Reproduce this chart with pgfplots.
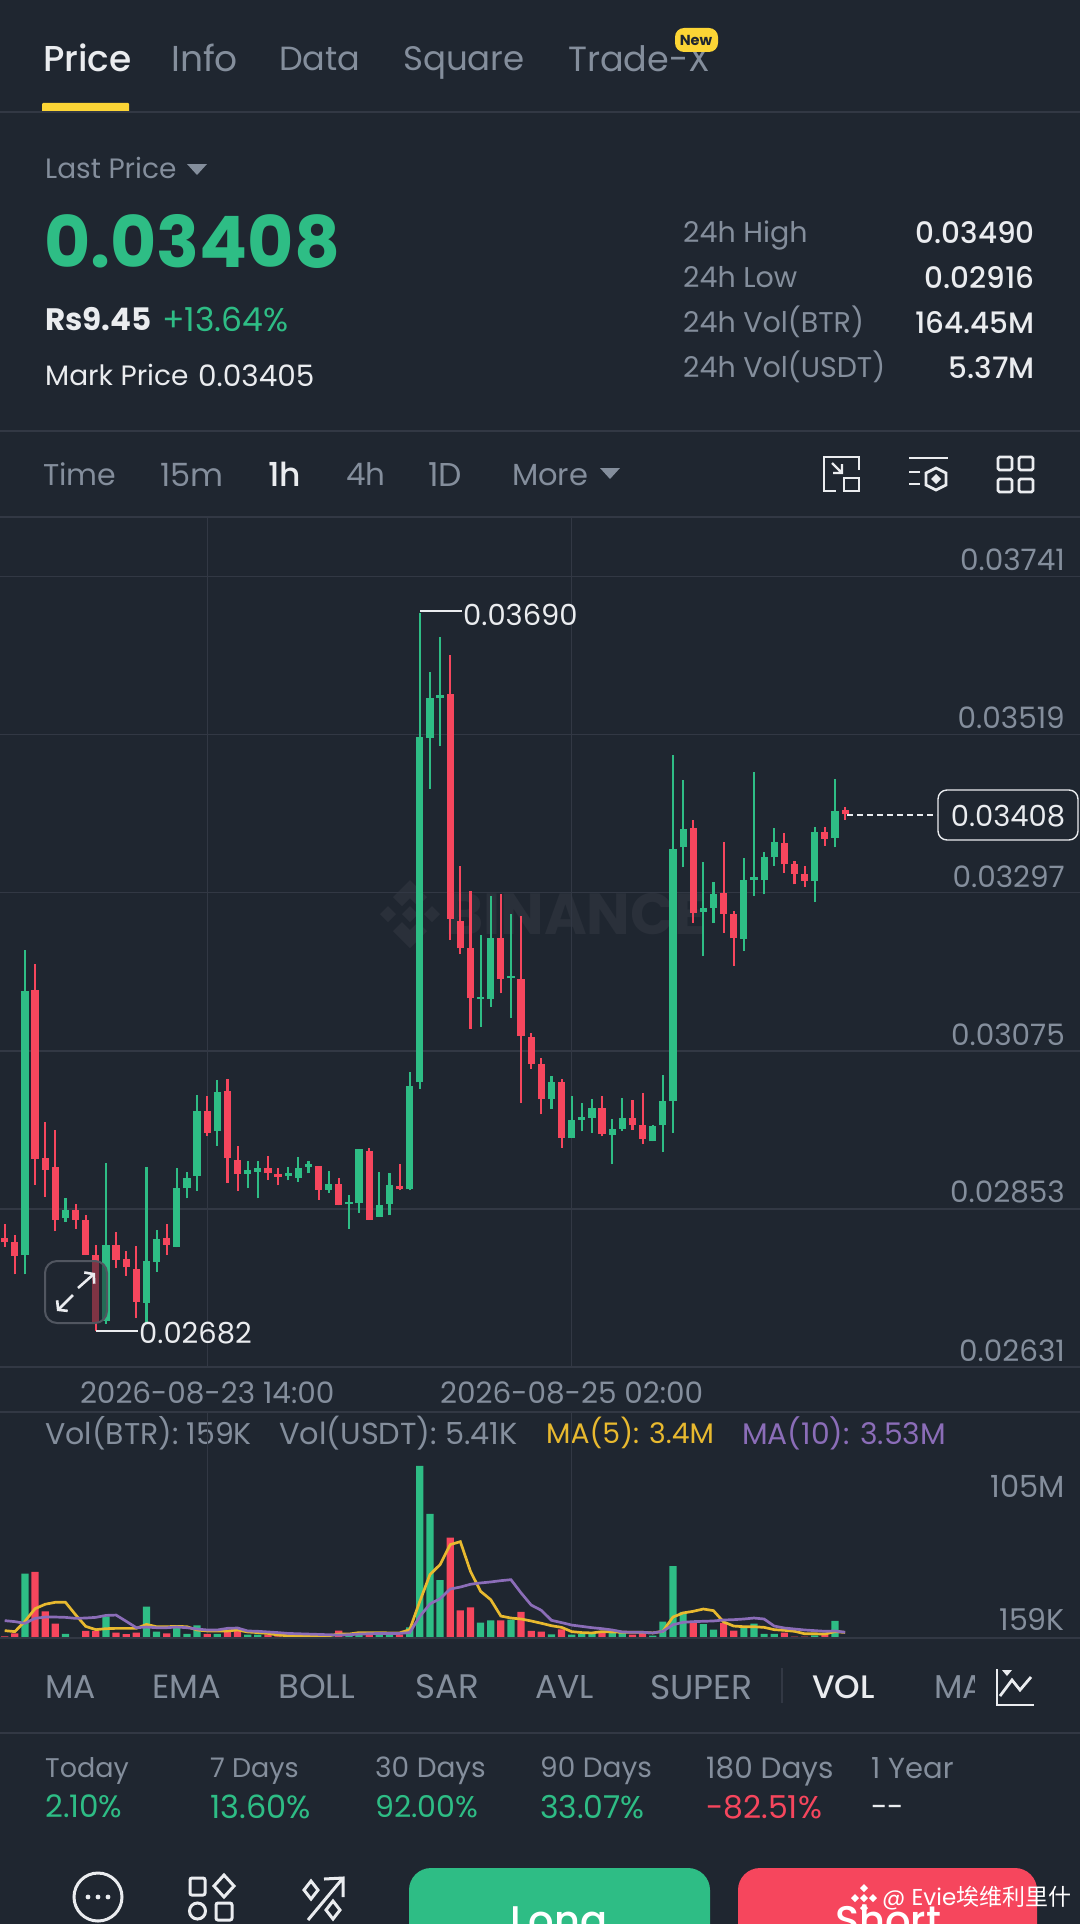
\documentclass[border=0pt]{standalone}
\usepackage{pgfplots}
\usepackage{pgfplotstable}
\pgfplotsset{compat=1.18}
\usetikzlibrary{arrows.meta}
\usepackage{fontspec}
\setmainfont{Poppins}
\newfontfamily\med{Poppins Medium}
\newfontfamily\cjk{Noto Sans CJK SC}
\definecolor{bg}{HTML}{1F2630}
\definecolor{gridc}{HTML}{323844}
\definecolor{up}{HTML}{2EBD85}
\definecolor{down}{HTML}{F6465D}
\definecolor{txt}{HTML}{848E9C}
\definecolor{wht}{HTML}{EAECEF}
\definecolor{ylw}{HTML}{FCD535}
\definecolor{ma}{HTML}{E8B92F}
\definecolor{mb}{HTML}{8B6DB8}
\definecolor{wm}{HTML}{2A303A}
% prices in units of 0.00001
% i  bt  bb  h  l
\pgfplotstableread{
i bt bb h l
2 3159 2788 3217 2761
6 2852 2840 2869 2835
10 2802 2695 2917 2692
14 2780 2721 2912 2692
15 2811 2778 2824 2765
17 2882 2800 2910 2799
18 2897 2882 2905 2868
19 2991 2900 3013 2878
21 3017 2963 3034 2942
24 2908 2902 2920 2882
25 2910 2905 2920 2868
28 2903 2899 2912 2893
29 2910 2897 2926 2891
30 2916 2912 2921 2903
32 2888 2880 2907 2876
34 2863 2860 2873 2825
35 2937 2861 2937 2848
37 2859 2842 2905 2842
38 2886 2860 2904 2844
40 3026 2881 3045 2879
41 3516 3031 3690 3022
42 3571 3515 3607 3443
43 3575 3571 3657 3503
47 3151 3148 3238 3109
48 3234 3148 3293 3137
50 3180 3177 3267 3121
54 3032 3007 3040 2994
56 2978 2952 3011 2952
57 2982 2978 3002 2962
58 2995 2981 3008 2960
60 2966 2957 2979 2916
61 2981 2966 3009 2963
64 2970 2948 2971 2948
65 3004 2971 3041 2933
66 3359 3004 3490 2960
67 3387 3361 3455 3333
69 3276 3270 3341 3208
70 3296 3276 3312 3255
73 3315 3232 3346 3216
74 3319 3315 3467 3293
75 3347 3315 3355 3295
76 3368 3347 3388 3335
80 3383 3314 3389 3284
82 3412 3374 3457 3361
}\upcandles
\pgfplotstableread{
i bt bb h l
0 2812 2806 2832 2800
1 2806 2787 2817 2761
3 3161 2923 3197 2887
4 2924 2908 2975 2870
5 2912 2838 2964 2822
7 2851 2838 2860 2825
8 2838 2789 2845 2788
9 2789 2693 2803 2682
11 2802 2781 2821 2770
12 2783 2771 2794 2759
13 2768 2723 2801 2700
16 2812 2803 2832 2788
20 2991 2960 3011 2956
22 3019 2924 3036 2890
23 2922 2902 2941 2878
26 2910 2903 2928 2894
27 2902 2898 2911 2886
31 2913 2880 2913 2866
33 2888 2859 2897 2858
36 2935 2838 2939 2838
39 2885 2881 2916 2879
44 3577 3261 3631 3231
45 3258 3219 3335 3211
46 3220 3149 3299 3106
49 3234 3176 3295 3156
51 3176 3096 3264 3002
52 3095 3057 3100 3050
53 3057 3007 3065 2986
55 3031 2953 3035 2939
59 2995 2958 3012 2955
62 2981 2971 3006 2964
63 2971 2951 3016 2944
68 3388 3269 3400 3255
71 3297 3268 3369 3241
72 3268 3233 3271 3195
77 3367 3337 3381 3325
78 3338 3324 3342 3309
79 3324 3314 3335 3305
81 3383 3373 3389 3363
83 3414 3408 3417 3400
}\downcandles
% volumes in millions
\pgfplotstableread{
i v
2 39.3
6 2.6
10 13.2
14 19.1
15 3.9
17 6.1
18 2.6
19 7.7
21 2.6
24 2.0
25 2.0
28 0.8
29 1.0
30 0.8
32 1.0
34 2.0
35 2.4
37 2.0
38 2.4
40 6.5
41 105.0
42 75.7
43 35.4
47 9.4
48 10.8
50 11.2
54 2.2
56 2.0
57 2.4
58 2.4
60 3.1
61 3.1
64 1.5
65 10.0
66 43.8
67 15.9
69 8.5
70 5.1
73 6.5
74 8.8
75 2.6
76 2.6
80 1.6
82 10.4
}\upvol
\pgfplotstableread{
i v
0 1.0
1 2.8
3 40.3
4 16.3
5 8.8
7 0.6
8 4.3
9 4.3
11 3.3
12 2.4
13 3.3
16 2.8
20 2.6
22 4.5
23 4.3
26 2.0
27 1.0
31 0.8
33 4.5
36 2.4
39 2.0
44 61.3
45 16.9
46 18.7
49 10.8
51 15.9
52 4.3
53 3.9
55 5.3
59 4.1
62 2.0
63 3.1
68 9.2
71 9.2
72 4.5
77 3.3
78 0.8
79 0.8
81 2.0
83 0.159
}\downvol
\pgfplotstableread{
i m5 m10
0 4.5 10.6
1 3.9 10.0
2 10.2 9.0
3 17.9 12.0
4 20.6 12.8
5 21.8 12.8
6 21.8 12.6
7 14.2 12.0
8 7.1 12.2
9 5.1 12.6
10 5.7 13.8
11 5.9 14.0
12 5.9 10.2
13 5.9 6.3
14 8.3 6.7
15 6.9 6.3
16 6.9 6.3
17 7.1 6.7
18 6.9 6.3
19 4.9 5.5
20 4.3 4.9
21 4.3 4.9
22 4.3 5.9
23 4.9 6.1
24 3.7 4.3
25 3.3 4.1
26 2.8 3.7
27 1.8 3.3
28 1.4 2.8
29 1.0 2.6
30 1.0 2.4
31 1.0 2.2
32 1.4 2.0
33 2.4 1.8
34 2.4 2.0
35 3.3 2.4
36 3.3 2.6
37 3.3 2.8
38 3.1 2.8
39 3.1 2.8
40 5.1 3.3
41 22.4 13.2
42 38.7 20.8
43 44.8 24.0
44 57.0 29.9
45 58.8 31.1
46 40.7 32.8
47 28.5 33.6
48 23.4 34.2
49 13.4 35.0
50 12.2 35.6
51 11.6 27.5
52 10.4 20.1
53 9.0 16.9
54 7.5 10.8
55 6.5 9.4
56 3.9 7.9
57 3.3 7.1
58 3.1 6.3
59 3.9 5.7
60 3.7 4.9
61 3.5 3.7
62 3.5 3.5
63 3.5 3.5
64 3.1 3.1
65 4.1 4.1
66 12.8 8.1
67 15.3 9.6
68 16.3 10.0
69 17.7 10.2
70 16.7 10.4
71 9.8 11.0
72 7.3 11.2
73 6.9 11.6
74 6.9 12.2
75 6.5 11.6
76 5.1 7.3
77 4.7 6.1
78 4.1 5.5
79 2.6 4.9
80 2.6 4.5
81 2.4 4.1
82 3.9 4.3
83 3.4 3.53
}\mas
\newcommand{\T}[6]{\node[anchor=#3,inner sep=0pt,text=#5,font=\fontsize{#4}{#4}\selectfont] at ({#1pt},{-(#2+0.35*#4)*1pt}) {#6};}
\newcommand{\candle}[2]{%
\addplot[draw=none,no markers,error bars/.cd,y dir=plus,y explicit,error mark=none,
  error bar style={draw=#2,line width=2.1pt,line cap=butt}]
  table[x=i,y=l,y error expr=\thisrow{h}-\thisrow{l}] {#1};
\addplot[draw=none,no markers,error bars/.cd,y dir=plus,y explicit,error mark=none,
  error bar style={draw=#2,line width=7.2pt,line cap=butt}]
  table[x=i,y=bb,y error expr=\thisrow{bt}-\thisrow{bb}] {#1};
}
\begin{document}
\begin{tikzpicture}
\clip (0,0) rectangle (1080pt,-1924pt);
\fill[bg] (0,0) rectangle (1080pt,-1924pt);
% header tabs
\T{43}{59}{base west}{36}{wht}{\med Price}
\T{171}{59}{base west}{36}{txt}{Info}
\T{279}{59}{base west}{33.5}{txt}{Data}
\T{403}{59}{base west}{34}{txt}{Square}
\T{568}{59}{base west}{35}{txt}{Trade-X}
\fill[ylw,rounded corners=9pt] (675pt,-28pt) rectangle (718pt,-52pt);
\T{696}{40}{base}{14.5}{bg}{\bfseries New}
\fill[ylw,rounded corners=1pt] (42pt,-103pt) rectangle (129pt,-112pt);
\draw[gridc,line width=1.2pt] (0,-112pt) -- (1080pt,-112pt);
% price header
\T{45}{169}{base west}{28}{txt}{Last Price}
\fill[txt] (187pt,-164pt) -- (207pt,-164pt) -- (197pt,-175pt) -- cycle;
\T{44}{243}{base west}{71}{up}{\bfseries 0.03408}
\T{45}{320}{base west}{31}{wht}{\bfseries Rs9.45}
\T{162}{320}{base west}{33}{up}{+13.64\%}
\T{45}{376}{base west}{28}{wht}{Mark Price}
\T{198}{376}{base west}{29.5}{wht}{0.03405}
\T{683}{233}{base west}{28.5}{txt}{24h High}
\T{683}{278}{base west}{28.5}{txt}{24h Low}
\T{683}{323}{base west}{28.5}{txt}{24h Vol(BTR)}
\T{683}{368}{base west}{28.5}{txt}{24h Vol(USDT)}
\T{1035}{233}{base east}{29.5}{wht}{\med 0.03490}
\T{1035}{278}{base east}{29.5}{wht}{\med 0.02916}
\T{1035}{323}{base east}{29.5}{wht}{\med 164.45M}
\T{1035}{368}{base east}{29.5}{wht}{\med 5.37M}
\draw[gridc,line width=1.2pt] (0,-431pt) -- (1080pt,-431pt);
% interval bar
\T{43}{475}{base west}{30}{txt}{Time}
\T{160}{475}{base west}{32}{txt}{15m}
\T{268}{475}{base west}{33}{wht}{\med 1h}
\T{346}{475}{base west}{31}{txt}{4h}
\T{428}{475}{base west}{33}{txt}{1D}
\T{512}{475}{base west}{30.5}{txt}{More}
\fill[txt] (600pt,-468pt) -- (620pt,-468pt) -- (610pt,-479pt) -- cycle;
\draw[wht,line width=2.8pt] (859pt,-470pt) -- (859pt,-457pt) -- (824pt,-457pt) -- (824pt,-491pt) -- (836pt,-491pt);
\draw[wht,line width=2.8pt] (844pt,-478pt) rectangle (859pt,-491pt);
\draw[wht,line width=2.4pt] (832pt,-463pt) -- (842pt,-473pt) (833pt,-473pt) -- (842pt,-473pt) -- (842pt,-464pt);
\draw[wht,line width=2.8pt] (909pt,-458pt) -- (948pt,-458pt) (909pt,-472pt) -- (920pt,-472pt) (909pt,-484pt) -- (920pt,-484pt);
\draw[wht,line width=2.8pt] (936pt,-468pt) -- (946pt,-473pt) -- (946pt,-485pt) -- (936pt,-490pt) -- (926pt,-485pt) -- (926pt,-473pt) -- cycle;
\fill[wht] (936pt,-474pt) -- (941pt,-479pt) -- (936pt,-484pt) -- (931pt,-479pt) -- cycle;
\foreach \xx/\yy in {998/457,1019/457,998/479,1019/479}
  \draw[wht,line width=2.8pt,rounded corners=1.5pt] (\xx pt,-\yy pt) rectangle ++(14pt,-13pt);
\draw[gridc,line width=1.2pt] (0,-517pt) -- (1080pt,-517pt);
% watermark
\begin{scope}[wm]
\fill (410pt,-880pt) -- (427pt,-897pt) -- (418pt,-906pt) -- (410pt,-898pt) -- (402pt,-906pt) -- (393pt,-897pt) -- cycle;
\fill (410pt,-948pt) -- (427pt,-931pt) -- (418pt,-922pt) -- (410pt,-930pt) -- (402pt,-922pt) -- (393pt,-931pt) -- cycle;
\fill (410pt,-906pt) -- (418pt,-914pt) -- (410pt,-922pt) -- (402pt,-914pt) -- cycle;
\fill (388pt,-906pt) -- (396pt,-914pt) -- (388pt,-922pt) -- (380pt,-914pt) -- cycle;
\fill (432pt,-906pt) -- (440pt,-914pt) -- (432pt,-922pt) -- (424pt,-914pt) -- cycle;
\end{scope}
\T{445}{914}{base west}{58}{wm}{\bfseries BINANCE}
% price axis
\begin{axis}[at={(0pt,-1367pt)},anchor=south west,width=1080pt,height=850pt,scale only axis,
  xmin=-0.464,xmax=106.2,ymin=2631,ymax=3825,
  axis line style={draw=none},major tick length=0pt,
  grid=major,grid style={gridc,line width=1.2pt},
  xtick={20,56},xticklabels={2026-08-23 14:00,2026-08-25 02:00},
  xticklabel style={text=txt,font=\fontsize{29.5}{29.5}\selectfont,yshift=-11pt},
  ytick={2631,2853,3075,3297,3519,3741},
  yticklabels={0.02631,0.02853,0.03075,0.03297,0.03519,0.03741},
  yticklabel pos=right,
  yticklabel style={text=txt,font=\fontsize{29.5}{29.5}\selectfont,anchor=south east,xshift=-15pt,yshift=5.5pt,inner sep=0pt},
  clip=true]
\candle{\upcandles}{up}
\candle{\downcandles}{down}
\end{axis}
% annotations
\draw[wht,line width=1.4pt] (420pt,-611pt) -- (462pt,-611pt);
\T{463}{615}{base west}{29}{wht}{0.03690}
\draw[wht,line width=1.4pt] (96pt,-1331pt) -- (138pt,-1331pt);
\T{139}{1333}{base west}{29}{wht}{0.02682}
\draw[wht,line width=1.4pt,dash pattern=on 6pt off 4pt] (847pt,-815pt) -- (937pt,-815pt);
\draw[wht,line width=1.4pt,fill=bg,rounded corners=9pt] (938pt,-790pt) rectangle (1078pt,-840pt);
\T{1008}{816}{base}{29}{wht}{0.03408}
% expand button
\draw[gridc!85!white,line width=2pt,fill=bg,fill opacity=0.55,rounded corners=12pt] (45pt,-1261pt) rectangle (107pt,-1323pt);
\draw[wht,line width=2.6pt,-{Straight Barb[length=6pt,width=15pt]}] (78pt,-1288pt) -- (95pt,-1273pt);
\draw[wht,line width=2.6pt,-{Straight Barb[length=6pt,width=15pt]}] (73pt,-1295pt) -- (57pt,-1311pt);
% volume panel
\draw[gridc,line width=1.2pt] (0,-1412pt) -- (1080pt,-1412pt);
\T{45}{1434}{base west}{30}{txt}{Vol(BTR): 159K}
\T{279}{1434}{base west}{30.4}{txt}{Vol(USDT): 5.41K}
\T{546}{1434}{base west}{28.3}{ma}{MA(5): 3.4M}
\T{742}{1434}{base west}{29.8}{mb}{MA(10): 3.53M}
\T{1065}{1487}{base east}{30.5}{txt}{105M}
\T{1065}{1620}{base east}{30}{txt}{159K}
\begin{axis}[at={(0pt,-1638pt)},anchor=south west,width=1080pt,height=226pt,scale only axis,
  xmin=-0.464,xmax=106.2,ymin=0,ymax=137.9,
  axis line style={draw=none},major tick length=0pt,
  xtick={20,56},xticklabels={},ytick=\empty,
  xmajorgrids,grid style={gridc,line width=1.2pt}]
\addplot[ybar,bar width=7.2pt,fill=up,draw=none] table[x=i,y=v] {\upvol};
\addplot[ybar,bar width=7.2pt,fill=down,draw=none] table[x=i,y=v] {\downvol};
\addplot[ma,line width=2.7pt] table[x=i,y=m5] {\mas};
\addplot[mb,line width=2.7pt] table[x=i,y=m10] {\mas};
\end{axis}
\draw[gridc,line width=2pt] (0,-1638pt) -- (1080pt,-1638pt);
% indicator tabs
\T{45}{1687}{base west}{33}{txt}{MA}
\T{152}{1687}{base west}{33.5}{txt}{EMA}
\T{278}{1687}{base west}{34}{txt}{BOLL}
\T{415}{1687}{base west}{34}{txt}{SAR}
\T{535}{1687}{base west}{33}{txt}{AVL}
\T{650}{1687}{base west}{34.5}{txt}{SUPER}
\T{812}{1687}{base west}{32.5}{wht}{\med VOL}
\T{934}{1687}{base west}{33}{txt}{MAC}
\shade[left color=bg!0!bg,right color=bg,opacity=1] (975pt,-1660pt) rectangle (990pt,-1715pt);
\fill[bg] (985pt,-1660pt) rectangle (1080pt,-1715pt);
\draw[gridc,line width=1.2pt] (782pt,-1668pt) -- (782pt,-1703pt);
\draw[wht,line width=2.8pt] (997pt,-1669pt) -- (997pt,-1705pt) -- (1034pt,-1705pt);
\draw[wht,line width=2.8pt] (1000pt,-1696pt) -- (1012pt,-1680pt) -- (1020pt,-1690pt) -- (1031pt,-1677pt);
\fill[wht] (1002pt,-1670pt) -- (1012pt,-1670pt) -- (1007pt,-1676pt) -- cycle;
\draw[gridc,line width=1.2pt] (0,-1733pt) -- (1080pt,-1733pt);
% periods
\T{45}{1768}{base west}{27}{txt}{Today}
\T{210}{1768}{base west}{27}{txt}{7 Days}
\T{375}{1768}{base west}{28}{txt}{30 Days}
\T{540}{1768}{base west}{28}{txt}{90 Days}
\T{706}{1768}{base west}{29.5}{txt}{180 Days}
\T{871}{1768}{base west}{29}{txt}{1 Year}
\T{45}{1807}{base west}{31}{up}{2.10\%}
\T{210}{1807}{base west}{32}{up}{13.60\%}
\T{375}{1807}{base west}{30}{up}{92.00\%}
\T{540}{1807}{base west}{31.5}{up}{33.07\%}
\T{706}{1807}{base west}{31.5}{down}{-82.51\%}
\T{871}{1807}{base west}{30}{wht}{{-}{-}}
% bottom icons
\draw[wht,line width=3pt] (98pt,-1897pt) circle (24pt);
\foreach \xx in {88,98,108} \fill[wht] (\xx pt,-1897pt) circle (2.4pt);
\draw[wht,line width=3pt,rounded corners=2pt] (190pt,-1878pt) rectangle (205pt,-1895pt);
\draw[wht,line width=3pt] (224pt,-1875pt) -- (234pt,-1886pt) -- (224pt,-1897pt) -- (214pt,-1886pt) -- cycle;
\draw[wht,line width=3pt] (197.5pt,-1911pt) circle (8pt);
\draw[wht,line width=3pt,rounded corners=2pt] (216pt,-1903pt) rectangle (232pt,-1920pt);
\draw[wht,line width=3pt] (308pt,-1920pt) -- (343pt,-1878pt) (324pt,-1879pt) -- (343pt,-1878pt) -- (343pt,-1897pt);
\draw[wht,line width=3pt] (311pt,-1881pt) -- (318pt,-1890pt) -- (311pt,-1899pt) -- (304pt,-1890pt) -- cycle;
\draw[wht,line width=3pt] (333pt,-1901pt) -- (340pt,-1910pt) -- (333pt,-1919pt) -- (326pt,-1910pt) -- cycle;
% buttons
\fill[up,rounded corners=22pt] (409pt,-1868pt) rectangle (710pt,-1990pt);
\fill[down,rounded corners=22pt] (738pt,-1868pt) rectangle (1037pt,-1990pt);
\T{559}{1920}{base}{40}{white}{\med Long}
\T{888}{1920}{base}{40}{white}{\med Short}
% credit
\begin{scope}[white]
\fill (864pt,-1884pt) -- (868pt,-1888pt) -- (864pt,-1892pt) -- (860pt,-1888pt) -- cycle;
\fill (864pt,-1894pt) -- (868pt,-1898pt) -- (864pt,-1902pt) -- (860pt,-1898pt) -- cycle;
\fill (864pt,-1904pt) -- (868pt,-1908pt) -- (864pt,-1912pt) -- (860pt,-1908pt) -- cycle;
\fill (855pt,-1894pt) -- (859pt,-1898pt) -- (855pt,-1902pt) -- (851pt,-1898pt) -- cycle;
\fill (873pt,-1894pt) -- (877pt,-1898pt) -- (873pt,-1902pt) -- (869pt,-1898pt) -- cycle;
\end{scope}
\T{882}{1897}{base west}{23}{white}{@ Evie{\cjk 埃维利里什}}
\end{tikzpicture}
\end{document}
